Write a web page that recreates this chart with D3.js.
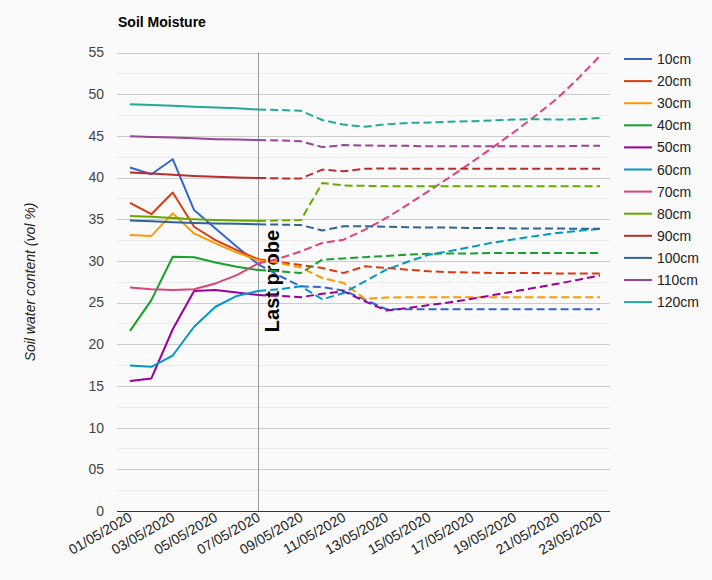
<!DOCTYPE html>
<html><head><meta charset="utf-8">
<script src="https://cdn.jsdelivr.net/npm/d3@7"></script>
<style>
body{margin:0;background:#fafafa}
text{font-family:"Liberation Sans",Arial,sans-serif}
</style>
</head><body>
<svg id="chart" width="712" height="580"></svg>
<script>
const dates = ["2020-05-01","2020-05-02","2020-05-03","2020-05-04","2020-05-05","2020-05-06","2020-05-07","2020-05-08","2020-05-09","2020-05-10","2020-05-11","2020-05-12","2020-05-13","2020-05-14","2020-05-15","2020-05-16","2020-05-17","2020-05-18","2020-05-19","2020-05-20","2020-05-21","2020-05-22","2020-05-23"];
const lastProbe = "2020-05-07";
const seriesNames = ["10cm","20cm","30cm","40cm","50cm","60cm","70cm","80cm","90cm","100cm","110cm","120cm"];
const colors = ["#3366cc","#dc3912","#ff9900","#16a02c","#990099","#0099c6","#dd4477","#66aa00","#b82e2e","#316395","#994499","#22aa99"];
const s10  = [41.2,40.4,42.2,36.1,33.9,31.7,29.6,28.2,26.95,26.85,26.45,25.35,24.2,24.2,24.2,24.2,24.2,24.2,24.2,24.2,24.2,24.2,24.2];
const s20  = [36.95,35.6,38.2,34.1,32.5,31.3,30.2,29.85,29.5,29.15,28.55,29.35,29.15,28.95,28.75,28.65,28.6,28.55,28.55,28.55,28.5,28.5,28.5];
const s30  = [33.1,33.0,35.7,33.3,32.1,31.0,30.1,29.75,29.2,27.95,27.35,25.45,25.6,25.65,25.65,25.65,25.65,25.65,25.65,25.65,25.65,25.65,25.65];
const s40  = [21.6,25.3,30.5,30.45,29.8,29.3,28.9,28.75,28.55,30.15,30.3,30.45,30.6,30.75,30.85,30.9,30.9,30.95,30.95,30.95,30.95,30.95,30.95];
const s50  = [15.6,15.9,21.8,26.4,26.5,26.2,25.9,25.8,25.65,26.05,26.35,25.15,24.05,24.35,24.7,25.05,25.45,25.9,26.35,26.8,27.25,27.75,28.25];
const s60  = [17.45,17.3,18.65,22.1,24.5,25.8,26.4,26.6,26.95,25.4,26.15,27.55,28.95,29.9,30.75,31.2,31.7,32.2,32.6,33.0,33.35,33.6,33.85];
const s70  = [26.8,26.6,26.5,26.6,27.3,28.3,29.7,30.3,31.15,32.15,32.55,33.75,35.15,36.75,38.4,40.1,41.85,43.65,45.5,47.45,49.5,51.95,54.6];
const s80  = [35.4,35.3,35.15,35.0,34.9,34.85,34.8,34.85,34.9,39.35,39.05,39.0,38.95,38.95,38.95,38.95,38.95,38.95,38.95,38.95,38.95,38.95,38.95];
const s90  = [40.6,40.5,40.35,40.2,40.1,40.0,39.95,39.9,39.9,40.95,40.75,41.05,41.1,41.05,41.05,41.05,41.05,41.05,41.05,41.05,41.05,41.05,41.05];
const s100 = [34.85,34.75,34.65,34.55,34.5,34.45,34.4,34.35,34.3,33.65,34.15,34.15,34.1,34.05,34.0,34.0,33.95,33.95,33.9,33.9,33.9,33.85,33.85];
const s110 = [44.95,44.85,44.8,44.7,44.6,44.55,44.5,44.45,44.35,43.65,43.9,43.85,43.8,43.8,43.75,43.75,43.75,43.75,43.75,43.75,43.75,43.8,43.8];
const s120 = [48.8,48.7,48.6,48.5,48.4,48.3,48.15,48.1,48.0,46.9,46.35,46.1,46.4,46.55,46.6,46.7,46.75,46.85,46.95,47.0,46.95,47.0,47.15];
const yTicks = [0,5,10,15,20,25,30,35,40,45,50,55];
const yTickLabels = ["0","05","10","15","20","25","30","35","40","45","50","55"];
const xTickDates = ["2020-05-01","2020-05-03","2020-05-05","2020-05-07","2020-05-09","2020-05-11","2020-05-13","2020-05-15","2020-05-17","2020-05-19","2020-05-21","2020-05-23"];
const xTickLabels = ["01/05/2020","03/05/2020","05/05/2020","07/05/2020","09/05/2020","11/05/2020","13/05/2020","15/05/2020","17/05/2020","19/05/2020","21/05/2020","23/05/2020"];

const allSeries = [s10,s20,s30,s40,s50,s60,s70,s80,s90,s100,s110,s120];
const parse = d3.timeParse("%Y-%m-%d");
const dateObjs = dates.map(parse);
const probeDate = parse(lastProbe);

const svg = d3.select("#chart");
svg.append("rect").attr("width",712).attr("height",580).attr("fill","#fafafa");

const plotL = 117, plotR = 610;
const x = d3.scaleTime().domain([dateObjs[0], dateObjs[dateObjs.length-1]]).range([130, 600]);
const y = d3.scaleLinear().domain([0,55]).range([511, 52.5]);

const minor = d3.range(2.5, 55, 5);
svg.append("g").selectAll("line").data(minor).join("line")
  .attr("x1",plotL).attr("x2",plotR)
  .attr("y1",d=>Math.round(y(d))+0.5).attr("y2",d=>Math.round(y(d))+0.5)
  .attr("stroke","#ebebeb").attr("stroke-width",1);
svg.append("g").selectAll("line").data(yTicks.filter(d=>d>0)).join("line")
  .attr("x1",plotL).attr("x2",plotR)
  .attr("y1",d=>Math.round(y(d))+0.5).attr("y2",d=>Math.round(y(d))+0.5)
  .attr("stroke","#cccccc").attr("stroke-width",1);

svg.append("g").selectAll("text").data(yTicks).join("text")
  .attr("x",104).attr("y",d=>y(d)).attr("dy","0.35em")
  .attr("text-anchor","end").attr("font-size",14).attr("fill","#444")
  .text((d,i)=>yTickLabels[i]);

svg.append("text")
  .attr("transform","translate(35,282) rotate(-90)")
  .attr("text-anchor","middle").attr("font-size",14).attr("font-style","italic").attr("fill","#222")
  .text("Soil water content (vol %)");

svg.append("g").selectAll("text").data(xTickDates).join("text")
  .attr("transform",d=>`translate(${x(parse(d))+3},${520}) rotate(-30)`)
  .attr("text-anchor","end").attr("font-size",14).attr("fill","#222")
  .text((d,i)=>xTickLabels[i]);

svg.append("line")
  .attr("x1",Math.round(x(probeDate))+0.5).attr("x2",Math.round(x(probeDate))+0.5)
  .attr("y1",y(55)).attr("y2",y(0))
  .attr("stroke","#999").attr("stroke-width",1);
svg.append("text")
  .attr("transform",`translate(${x(probeDate)+21},281) rotate(-90)`)
  .attr("text-anchor","middle").attr("font-size",20).attr("font-weight","bold").attr("fill","#000")
  .text("Last probe");

const probeIdx = dates.indexOf(lastProbe);
const line = d3.line().x(d=>x(d.date)).y(d=>y(d.v));
const gS = svg.append("g");
allSeries.forEach((vals,i)=>{
  const pts = vals.map((v,j)=>({date:dateObjs[j], v}));
  gS.append("path").datum(pts.slice(0,probeIdx+1)).attr("d",line)
    .attr("fill","none").attr("stroke",colors[i]).attr("stroke-width",2).attr("stroke-linejoin","round");
  gS.append("path").datum(pts.slice(probeIdx)).attr("d",line)
    .attr("fill","none").attr("stroke",colors[i]).attr("stroke-width",2)
    .attr("stroke-dasharray","8,4").attr("stroke-linejoin","round");
});

svg.append("line").attr("x1",plotL).attr("x2",plotR)
  .attr("y1",Math.round(y(0))+0.5).attr("y2",Math.round(y(0))+0.5)
  .attr("stroke","#333").attr("stroke-width",1);

svg.append("text").attr("x",118).attr("y",27)
  .attr("font-size",14).attr("font-weight","bold").attr("fill","#000")
  .text("Soil Moisture");

const lg = svg.append("g");
seriesNames.forEach((n,i)=>{
  const ly = 59 + i*22.1;
  lg.append("line").attr("x1",624).attr("x2",652).attr("y1",ly).attr("y2",ly)
    .attr("stroke",colors[i]).attr("stroke-width",2);
  lg.append("text").attr("x",657).attr("y",ly).attr("dy","0.36em")
    .attr("font-size",14).attr("fill","#222").text(n);
});
</script>
</body></html>
